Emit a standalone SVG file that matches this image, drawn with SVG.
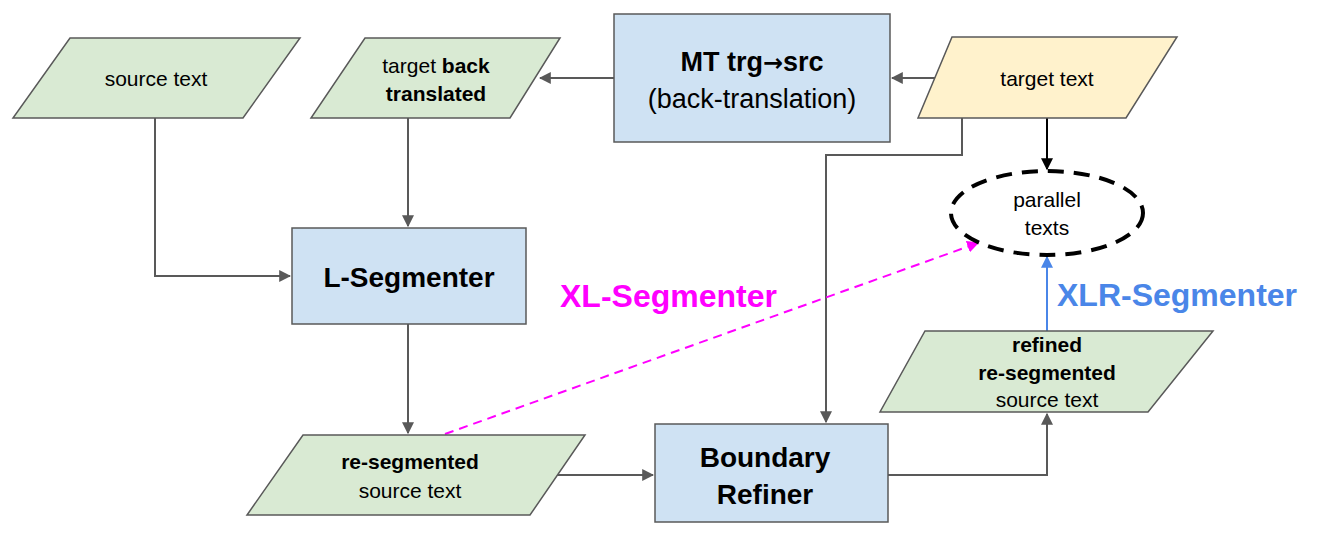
<svg xmlns="http://www.w3.org/2000/svg" width="1322" height="533" viewBox="0 0 1322 533">
<style>
text{font-family:"Liberation Sans",Arial,sans-serif;fill:#000}
.g{fill:#d9ead3;stroke:#595959;stroke-width:1.5}
.y{fill:#fff2cc;stroke:#595959;stroke-width:1.5}
.b{fill:#cfe2f3;stroke:#595959;stroke-width:1.5}
.c{fill:none;stroke:#595959;stroke-width:2}
.s{font-size:21px}
.L{font-size:28px;font-weight:bold}
</style>
<defs>
<marker id="a" viewBox="0 0 10 10" refX="9" refY="5" markerWidth="6" markerHeight="6" orient="auto"><path d="M0,0L10,5L0,10z" fill="#595959"/></marker>
<marker id="k" viewBox="0 0 10 10" refX="9" refY="5" markerWidth="6" markerHeight="6" orient="auto"><path d="M0,0L10,5L0,10z" fill="#000"/></marker>
<marker id="bl" viewBox="0 0 10 10" refX="9" refY="5" markerWidth="6" markerHeight="6" orient="auto"><path d="M0,0L10,5L0,10z" fill="#4a86e8"/></marker>
<marker id="m" viewBox="0 0 10 10" refX="9" refY="5" markerWidth="6" markerHeight="6" orient="auto"><path d="M0,0L10,5L0,10z" fill="#ff00ff"/></marker>
</defs>
<g id="connectors">
<path class="c" d="M155,118V276H290" marker-end="url(#a)"/>
<path class="c" d="M408,118V226" marker-end="url(#a)"/>
<path class="c" d="M614,78H540" marker-end="url(#a)"/>
<path class="c" d="M952,78H892" marker-end="url(#a)"/>
<path class="c" d="M962,118V155H826V422" marker-end="url(#a)"/>
<path d="M1047,118V169" stroke="#000" stroke-width="2" fill="none" marker-end="url(#k)"/>
<path class="c" d="M408,324V433" marker-end="url(#a)"/>
<path class="c" d="M530,475H653" marker-end="url(#a)"/>
<path class="c" d="M888,475H1047V414" marker-end="url(#a)"/>
<path d="M1047,331V257" stroke="#4a86e8" stroke-width="2" fill="none" marker-end="url(#bl)"/>
<path d="M445,434L978,243" stroke="#ff00ff" stroke-width="2" stroke-dasharray="9,6" fill="none" marker-end="url(#m)"/>
<text x="560" y="307" font-size="32" font-weight="bold" style="fill:#ff00ff">XL-Segmenter</text>
<text x="1057" y="306" font-size="32" font-weight="bold" style="fill:#4a86e8">XLR-Segmenter</text>
</g>
<g id="source"><path class="g" d="M70,38H300L243,118H13z"/><text class="s" x="156" y="86" text-anchor="middle">source text</text></g>
<g id="backtrans"><path class="g" d="M365,38H560L510,118H311z"/><text class="s" x="436" y="73" text-anchor="middle">target <tspan font-weight="bold">back</tspan></text><text class="s" x="436" y="101" text-anchor="middle" font-weight="bold">translated</text></g>
<g id="mt"><rect class="b" x="614" y="14" width="276" height="128"/><text x="752" y="71" text-anchor="middle" font-size="27" font-weight="bold">MT trg<tspan font-family="DejaVu Sans" font-size="24">→</tspan>src</text><text x="752" y="108" text-anchor="middle" font-size="27">(back-translation)</text></g>
<g id="target"><path class="y" d="M952,37H1177L1126,118H918z"/><text class="s" x="1047" y="86" text-anchor="middle">target text</text></g>
<g id="parallel"><ellipse cx="1047" cy="213" rx="96" ry="42" fill="#fff" stroke="#000" stroke-width="4" stroke-dasharray="16,10"/><text class="s" x="1047" y="207" text-anchor="middle">parallel</text><text class="s" x="1047" y="235" text-anchor="middle">texts</text></g>
<g id="lseg"><rect class="b" x="292" y="228" width="234" height="96"/><text class="L" x="409" y="287" text-anchor="middle">L-Segmenter</text></g>
<g id="refined"><path class="g" d="M925,331H1213L1148,412H880z"/><text class="s" x="1047" y="352" text-anchor="middle" font-weight="bold">refined</text><text class="s" x="1047" y="380" text-anchor="middle" font-weight="bold">re-segmented</text><text class="s" x="1047" y="407" text-anchor="middle">source text</text></g>
<g id="reseg"><path class="g" d="M303,435H585L530,515H247z"/><text class="s" x="410" y="469" text-anchor="middle" font-weight="bold">re-segmented</text><text class="s" x="410" y="498" text-anchor="middle">source text</text></g>
<g id="refiner"><rect class="b" x="655" y="424" width="233" height="98"/><text x="765" y="467" text-anchor="middle" font-size="28" font-weight="bold">Boundary</text><text x="765" y="504" text-anchor="middle" font-size="28" font-weight="bold">Refiner</text></g>
</svg>
